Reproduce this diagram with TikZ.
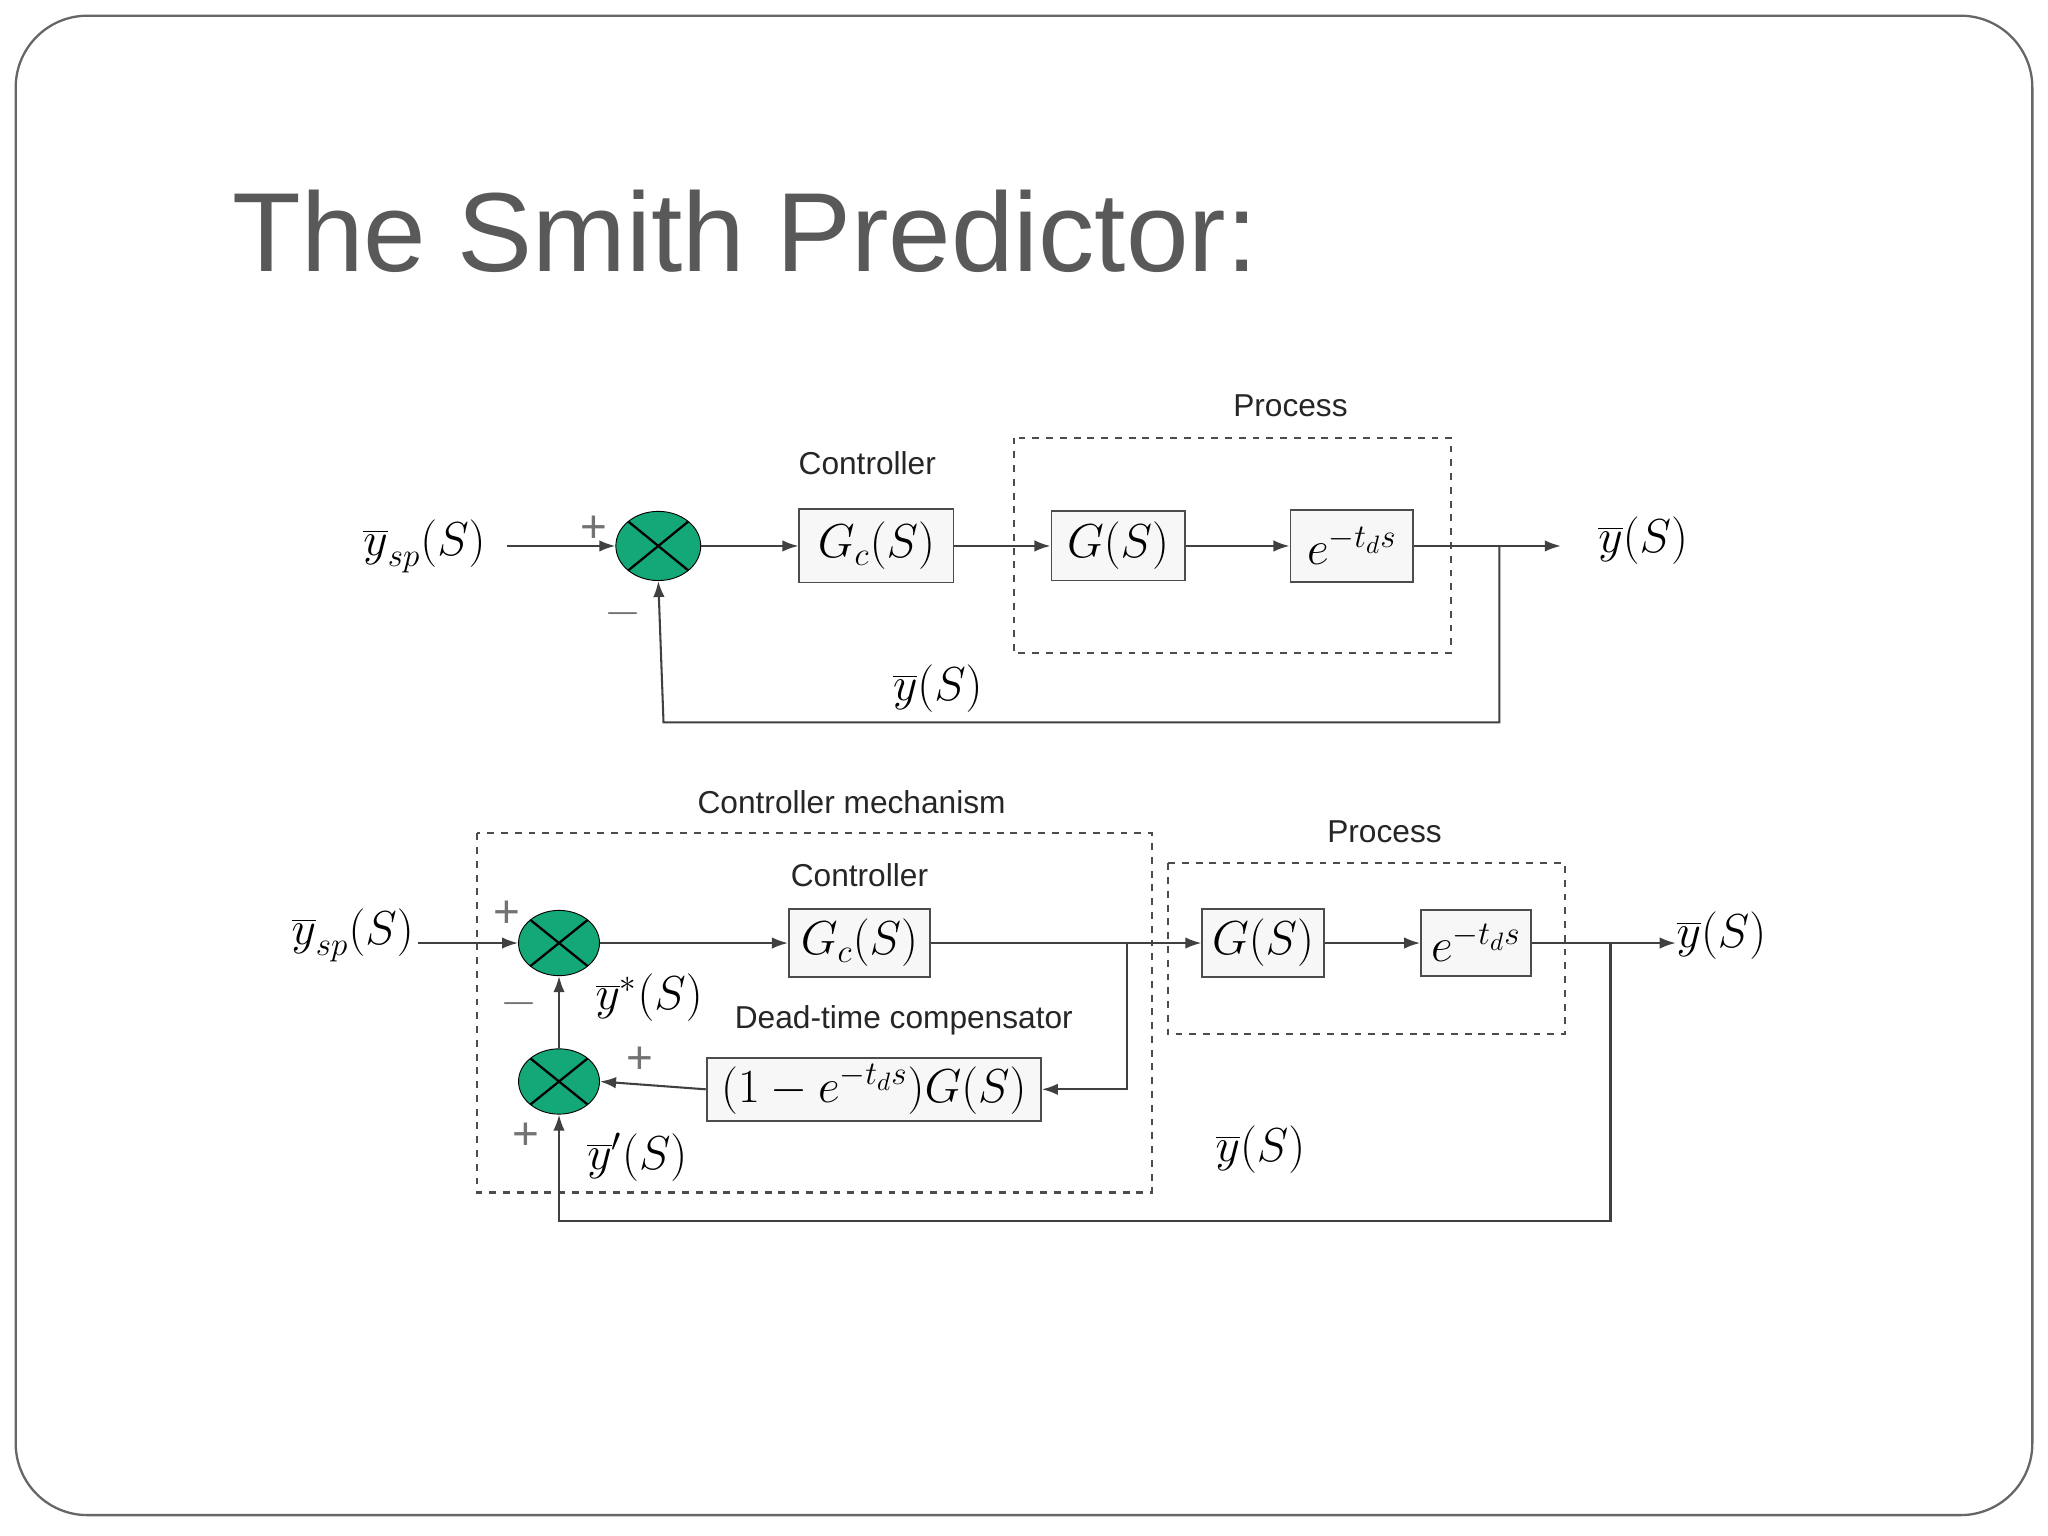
\documentclass[tikz,border=0pt]{standalone}
\usepackage{fontspec}
\setmainfont{Liberation Sans}
\usetikzlibrary{shapes.geometric,arrows.meta}
\begin{document}
\begin{tikzpicture}[x=0.02cm,y=-0.02cm,
  sumj/.style={ellipse,draw=black,fill={rgb,255:red,20;green,168;blue,120},minimum width=1.3cm,minimum height=1.06cm,inner sep=0pt,
    path picture={\draw[black,line width=1pt] (path picture bounding box.north west)--(path picture bounding box.south east) (path picture bounding box.north east)--(path picture bounding box.south west);}},
  blk/.style={draw=black!70,fill=black!3,line width=0.8pt,inner sep=2pt,font=\fontsize{22}{24}\selectfont},
  dbox/.style={draw=black!70,dashed,line width=0.9pt},
  lab/.style={font=\fontsize{13.8}{16}\selectfont,text=black!85},
  mlab/.style={font=\fontsize{22}{24}\selectfont},
  sgn/.style={font=\fontsize{20}{22}\selectfont,text=black!55},
  ln/.style={draw=black!75,line width=0.9pt},
  ar/.style={ln,-{Latex[length=7pt,width=5pt]}}]
\useasboundingbox (0,0) rectangle (1568,1176);
\fill[white] (0,0) rectangle (1568,1176);
\draw[black!60,line width=1pt,rounded corners=1.1cm] (12,12) rectangle (1556,1160);
\node[anchor=base west,text=black!65,font=\fontsize{49}{54}\selectfont] (title) at (172,208) {The Smith Predictor:};
% ---- top diagram
\draw[dbox] (776,335) rectangle (1111,500);
\node[lab] (tproc) at (988,311) {Process};
\node[lab] (tctl) at (664,355) {Controller};
\node[mlab] (tysp) at (325,418) {$\overline{y}_{sp}(S)$};
\node[sumj] (tj) at (504,418) {};
\node[sgn] (tplus) at (455,405) {+};
\node[sgn] (tminus) at (477,470) {$-$};
\node[blk,minimum width=2.36cm,minimum height=1.12cm] (tgc) at (671,418) {$G_c(S)$};
\node[blk,minimum width=2.04cm,minimum height=1.06cm] (tg) at (856,418) {$G(S)$};
\node[blk,minimum width=1.88cm,minimum height=1.1cm] (te) at (1035,418) {$e^{-t_d s}$};
\node[mlab] (ty) at (1258,414) {$\overline{y}(S)$};
\node[mlab] (tyb) at (718,527) {$\overline{y}(S)$};
\coordinate (tout) at (1195,418);
\coordinate (tbr) at (1148,418);
\draw[ar] (388,418) -- (tj.west);
\draw[ar] (tj.east) -- (tgc.west);
\draw[ar] (tgc.east) -- (tg.west);
\draw[ar] (tg.east) -- (te.west);
\draw[ar] (te.east) -- (tout);
\draw[ar] (tbr) -- (1148,553) -- (508,553) -- (tj.south);
% ---- bottom diagram
\draw[dbox] (365,638) rectangle (882,913);
\draw[dbox] (894,661) rectangle (1198,792);
\node[lab] (bmech) at (652,614) {Controller mechanism};
\node[lab] (bproc) at (1060,637) {Process};
\node[lab] (bctl) at (658,670) {Controller};
\node[lab] (bdt) at (692,781) {Dead-time compensator};
\node[mlab] (bysp) at (270,716) {$\overline{y}_{sp}(S)$};
\node[sumj,minimum width=1.24cm,minimum height=1.0cm] (bj1) at (428,722) {};
\node[sumj,minimum width=1.24cm,minimum height=1.0cm] (bj2) at (428,828) {};
\node[sgn] (bp1) at (388,700) {+};
\node[sgn] (bm1) at (397,768) {$-$};
\node[sgn] (bp2) at (490,812) {+};
\node[sgn] (bp3) at (403,870) {+};
\node[blk,minimum width=2.16cm,minimum height=1.04cm] (bgc) at (658,722) {$G_c(S)$};
\node[blk,minimum width=1.86cm,minimum height=1.04cm] (bg) at (967,722) {$G(S)$};
\node[blk,minimum width=1.68cm,minimum height=1.02cm] (be) at (1130,722) {$e^{-t_d s}$};
\node[blk,minimum width=5.12cm,minimum height=0.96cm] (bdb) at (669,834) {$(1-e^{-t_d s})G(S)$};
\node[mlab] (by) at (1318,716) {$\overline{y}(S)$};
\node[mlab] (bys) at (497,764) {$\overline{y}^{*}(S)$};
\node[mlab] (byp) at (488,886) {$\overline{y}^{\prime}(S)$};
\node[mlab] (byb) at (965,880) {$\overline{y}(S)$};
\coordinate (bout) at (1283,722);
\draw[ar] (320,722) -- (bj1.west);
\draw[ar] (bj1.east) -- (bgc.west);
\draw[ar] (bgc.east) -- (bg.west);
\draw[ar] (bg.east) -- (be.west);
\draw[ar] (be.east) -- (bout);
\draw[ar] (863,722) -- (863,834) -- (bdb.east);
\draw[ar] (bdb.west) -- (bj2.east);
\draw[ar] (bj2.north) -- (bj1.south);
\draw[ar] (1233,722) -- (1233,935) -- (428,935) -- (bj2.south);
\end{tikzpicture}
\end{document}
